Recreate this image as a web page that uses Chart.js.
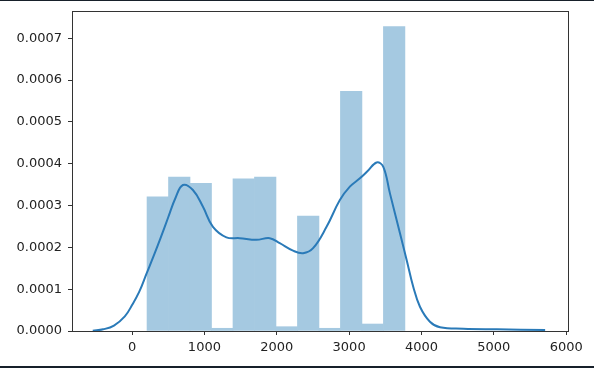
<!DOCTYPE html>
<html>
<head>
<meta charset="utf-8">
<script src="https://cdn.jsdelivr.net/npm/chart.js@4"></script>
<style>
  html, body { margin: 0; padding: 0; background: #17202a; }
  #wrap { position: absolute; left: 0; top: 1px; width: 594px; height: 365px; background: #fff; }
</style>
</head>
<body>
<div id="wrap"><canvas id="distChart" width="594" height="365"></canvas></div>
<script>
// histogram bins (centres) and density heights
const binCenters = [355.5, 652.5, 949.5, 1246.5, 1543.5, 1840.5, 2137.5, 2434.5, 2731.5, 3028.5, 3325.5, 3622.5];
const binHeights = [0.000321, 0.000368, 0.000353, 0.0000065, 0.000364, 0.000368, 0.0000103, 0.000275, 0.0000065, 0.000573, 0.0000167, 0.000728];

// kde curve
const kdeX = [-543, -400, -250, -100, 0, 100, 200, 300, 400, 500, 600, 703, 841, 980, 1118, 1304, 1488, 1719, 1903, 2041, 2225, 2364, 2502, 2688, 2872, 3010, 3149, 3259, 3380, 3471, 3564, 3702, 3795, 3886, 3979, 4117, 4256, 4578, 5041, 5709];
const kdeY = [0.0000005, 0.000004, 0.000013, 0.000035, 0.000062, 0.000094, 0.000137, 0.000180, 0.000225, 0.000272, 0.000318, 0.000349, 0.000337, 0.000297, 0.000249, 0.000224, 0.000222, 0.000218, 0.000222, 0.000210, 0.000192, 0.000186, 0.000198, 0.000249, 0.000313, 0.000345, 0.000365, 0.000383, 0.000403, 0.000393, 0.000329, 0.000234, 0.000170, 0.000106, 0.0000581, 0.0000222, 0.0000089, 0.0000055, 0.0000041, 0.0000024];

const xTicks = [0, 1000, 2000, 3000, 4000, 5000, 6000];
const yTicks = [0, 0.0001, 0.0002, 0.0003, 0.0004, 0.0005, 0.0006, 0.0007];

const xMin = -830, xMax = 6025;
const yMin = 0, yMax = 0.000765;

// box around the plot (all four spines)
const frame = {
    id: 'frame',
    afterDraw(chart) {
        const a = chart.chartArea;
        const c = chart.ctx;
        c.save();
        c.strokeStyle = '#333';
        c.lineWidth = 1;
        c.strokeRect(Math.round(a.left) + 0.5, Math.round(a.top) + 0.5, Math.round(a.right - a.left), Math.round(a.bottom - a.top));
        c.restore();
    }
};

const ctx = document.getElementById('distChart');
new Chart(ctx, {
    type: 'line',
    data: {
        datasets: [{
            type: 'line',
            data: kdeX.map((x, i) => ({ x: x, y: kdeY[i] })),
            borderColor: '#2a7ab8',
            borderWidth: 2,
            pointRadius: 0,
            tension: 0.4,
            fill: false,
            order: 1
        }, {
            type: 'bar',
            data: binCenters.map((x, i) => ({ x: x, y: binHeights[i] })),
            backgroundColor: '#a5c9e1',
            borderWidth: 0,
            barPercentage: 1,
            categoryPercentage: 1,
            order: 2
        }]
    },
    options: {
        responsive: false,
        animation: false,
        layout: { padding: { top: 10, right: 26, left: 0, bottom: 0 } },
        scales: {
            x: {
                type: 'linear',
                min: xMin,
                max: xMax,
                offset: false,
                afterBuildTicks: s => { s.ticks = xTicks.map(v => ({ value: v })); },
                afterFit: s => { s.height = 35; s.paddingLeft = 0; s.paddingRight = 0; },
                border: { display: false },
                grid: { offset: false, drawOnChartArea: false, drawTicks: true, tickLength: 4, color: '#333' },
                ticks: {
                    padding: 5,
                    color: '#222',
                    font: { family: 'DejaVu Sans', size: 13 },
                    maxRotation: 0,
                    autoSkip: false,
                    callback: v => String(v)
                }
            },
            y: {
                type: 'linear',
                min: yMin,
                max: yMax,
                afterBuildTicks: s => { s.ticks = yTicks.map(v => ({ value: v })); },
                afterFit: s => { s.width = 72; s.paddingTop = 0; s.paddingBottom = 0; },
                border: { display: false },
                grid: { drawOnChartArea: false, drawTicks: true, tickLength: 4, color: '#333' },
                ticks: {
                    padding: 6,
                    color: '#222',
                    font: { family: 'DejaVu Sans', size: 13 },
                    autoSkip: false,
                    callback: v => v.toFixed(4)
                }
            }
        },
        plugins: {
            legend: { display: false },
            tooltip: { enabled: false }
        }
    },
    plugins: [frame]
});
</script>
</body>
</html>
